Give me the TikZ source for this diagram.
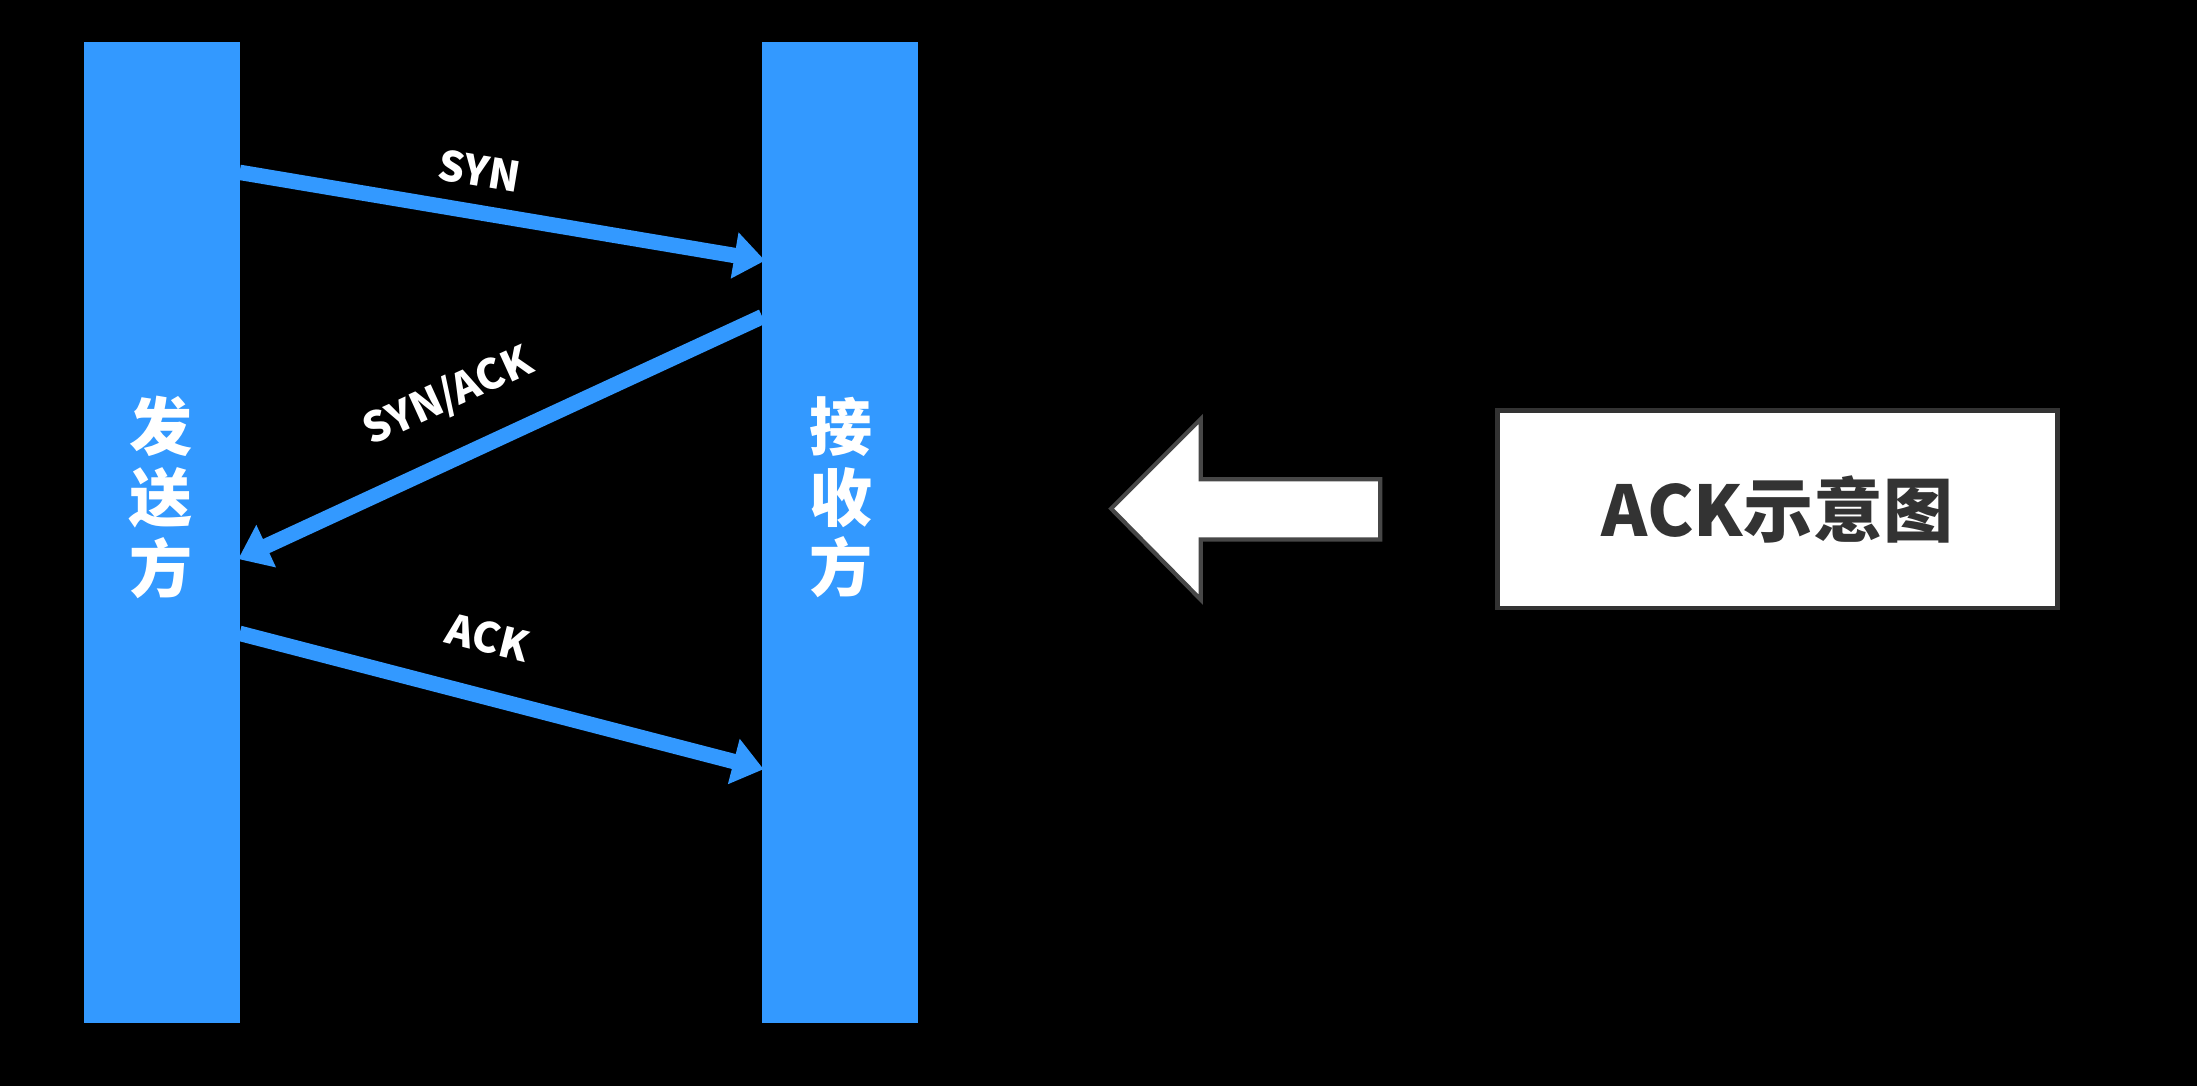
\documentclass[tikz,border=0pt]{standalone}
\usepackage{fontspec}
\setmainfont{Noto Sans CJK SC}
\usetikzlibrary{arrows.meta}
\definecolor{blu}{HTML}{3399FF}
\definecolor{dg}{HTML}{333333}
\tikzset{
 bar/.style={fill=blu,draw=none,minimum width=5.55cm,minimum height=35cm,inner sep=0,anchor=north west},
 msg/.style={draw=blu,line width=0.55cm,-{Triangle[length=1.1cm,width=1.6cm]},shorten >=0pt},
 lbl/.style={text=white,font=\bfseries\fontsize{42}{44}\selectfont,inner sep=0},
 side/.style={text=white,font=\bfseries\fontsize{64}{66}\selectfont,align=center},
}
\begin{document}
\begin{tikzpicture}[x=0.05cm,y=-0.05cm]
\useasboundingbox[fill=black] (0,0) rectangle (1568,775);
\node[bar] (L) at (60,30) {};
\node[bar] (R) at (544,30) {};
\node[side] (ls) at (115,355) {发\\[0.2cm]送\\[0.2cm]方};
\node[side] (rs) at (600,355) {接\\[0.2cm]收\\[0.2cm]方};
\coordinate (a1) at (171,123); \coordinate (b1) at (546,186);
\coordinate (a2) at (544,226); \coordinate (b2) at (170,399);
\coordinate (a3) at (171,452); \coordinate (b3) at (545,549);
\draw[msg] (a1) -- (b1);
\draw[msg] (a2) -- (b2);
\draw[msg] (a3) -- (b3);
\node[lbl,rotate=-9.5] (t1) at (342,122) {SYN};
\node[lbl,rotate=24.5] (t2) at (320,283) {SYN/ACK};
\node[lbl,rotate=-14] (t3) at (348,455) {ACK};
\draw[fill=white,draw=dg!90,line width=0.15cm,line join=miter] (793,363) -- (857,299) -- (857,342) -- (985,342) -- (985,385) -- (857,385) -- (857,428) -- cycle;
\node[draw=dg,fill=white,line width=0.17cm,minimum width=20cm,minimum height=7.05cm,inner sep=0,text=dg,font=\bfseries\fontsize{71}{73}\selectfont] (box) at (1268.5,363.5) {ACK示意图};
\end{tikzpicture}
\end{document}
